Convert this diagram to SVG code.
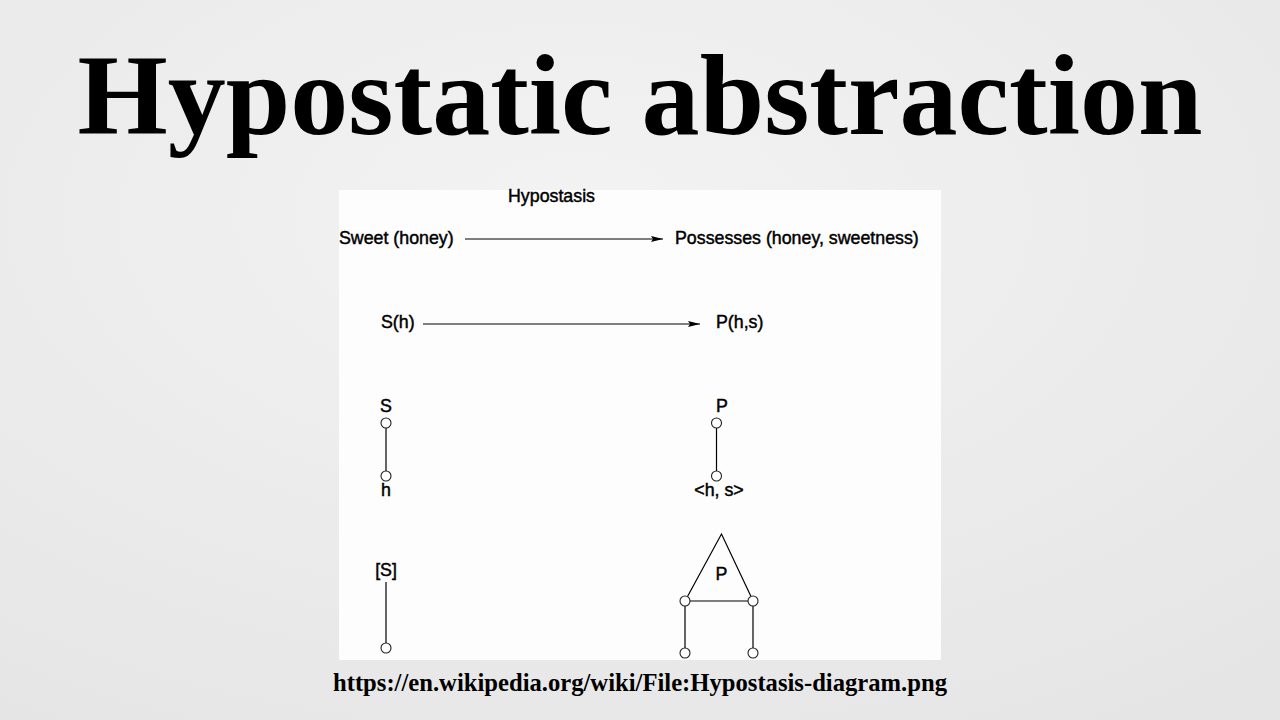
<svg xmlns="http://www.w3.org/2000/svg" width="1280" height="720" viewBox="0 0 1280 720">
<style>
.title{font-family:"Liberation Serif","Times New Roman",serif;font-weight:bold;fill:#000}
.lbl{font-family:"Liberation Sans",Arial,sans-serif;font-size:17.8px;fill:#000;stroke:#000;stroke-width:0.45}
.ln{stroke:#000;stroke-width:1.2;fill:none}
.nd{fill:#fff;stroke:#222;stroke-width:1.1}
</style>
<defs>
<radialGradient id="bg" cx="0.45" cy="0.3" r="0.9">
<stop offset="0" stop-color="#f3f3f3"/>
<stop offset="1" stop-color="#e4e4e4"/>
</radialGradient>
<marker id="arr" viewBox="0 0 12 8" refX="12" refY="4" markerWidth="12" markerHeight="8" markerUnits="userSpaceOnUse" orient="auto">
<path d="M0,1 L12,4 L0,7 L2,4 Z" fill="#000"/>
</marker>
</defs>
<rect width="1280" height="720" fill="url(#bg)"/>
<text class="title" x="640" y="134" font-size="115" text-anchor="middle" textLength="1125" lengthAdjust="spacingAndGlyphs">Hypostatic abstraction</text>
<rect x="339" y="190" width="602" height="470" fill="#fdfdfd"/>
<g id="connectors">
<line class="ln" x1="465" y1="239" x2="663" y2="239" marker-end="url(#arr)"/>
<line class="ln" x1="423" y1="324" x2="700" y2="324" marker-end="url(#arr)"/>
<line class="ln" x1="386" y1="428" x2="386" y2="471"/>
<line class="ln" x1="716.5" y1="428" x2="716.5" y2="471"/>
<line class="ln" x1="386" y1="582" x2="386" y2="643"/>
<path class="ln" d="M687.5,596.5 L721.5,534 L751,596.5"/>
<line class="ln" x1="690" y1="601" x2="748" y2="601"/>
<line class="ln" x1="685" y1="606" x2="685" y2="648"/>
<line class="ln" x1="753" y1="606" x2="753" y2="648"/>
</g>
<g id="hypostasis"><text class="lbl" x="551.5" y="202" text-anchor="middle">Hypostasis</text></g>
<g id="sweet"><text class="lbl" x="339" y="244">Sweet (honey)</text></g>
<g id="possesses"><text class="lbl" x="675" y="244">Possesses (honey, sweetness)</text></g>
<g id="sh"><text class="lbl" x="381" y="328">S(h)</text></g>
<g id="phs"><text class="lbl" x="716" y="328">P(h,s)</text></g>
<g id="s-node"><text class="lbl" x="386" y="412" text-anchor="middle">S</text><circle class="nd" cx="386" cy="423" r="5"/></g>
<g id="h-node"><circle class="nd" cx="386" cy="476" r="5"/><text class="lbl" x="386" y="496" text-anchor="middle">h</text></g>
<g id="p-node"><text class="lbl" x="722" y="412" text-anchor="middle">P</text><circle class="nd" cx="716.5" cy="423" r="5"/></g>
<g id="hs-node"><circle class="nd" cx="716.5" cy="476" r="5"/><text class="lbl" x="719" y="496" text-anchor="middle">&lt;h, s&gt;</text></g>
<g id="bs-node"><text class="lbl" x="386" y="576" text-anchor="middle">[S]</text><circle class="nd" cx="386" cy="648" r="5"/></g>
<g id="p-triangle"><text class="lbl" x="721.5" y="580" text-anchor="middle">P</text>
<circle class="nd" cx="685" cy="601" r="5"/><circle class="nd" cx="753" cy="601" r="5"/>
<circle class="nd" cx="685" cy="653" r="5"/><circle class="nd" cx="753" cy="653" r="5"/></g>
<g id="source"><text class="title" x="640" y="691" font-size="25" text-anchor="middle" textLength="614" lengthAdjust="spacingAndGlyphs">https://en.wikipedia.org/wiki/File:Hypostasis-diagram.png</text></g>
</svg>
